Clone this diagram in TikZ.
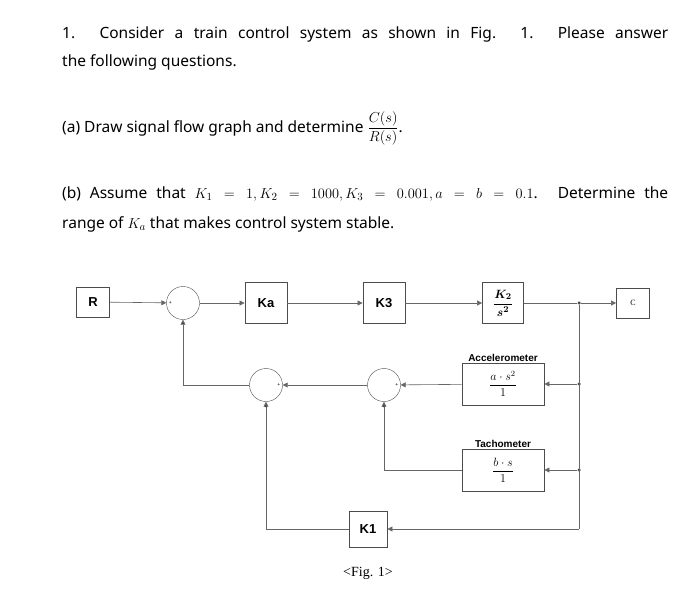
\documentclass[tikz,border=0pt]{standalone}
\usepackage{amsmath,amsbsy}
\usepackage{fontspec}
\setmainfont{Noto Sans}
\newfontfamily\blk{Liberation Sans}
\newfontfamily\ser{Liberation Serif}
\usetikzlibrary{arrows.meta}
\begin{document}
\begin{tikzpicture}[x=1pt,y=-1pt,
  box/.style={draw=black!70,thick,minimum width=#1,inner sep=0pt,font=\blk\bfseries\fontsize{13}{15}\selectfont},
  sum/.style={draw=black!70,circle,minimum size=33pt,inner sep=0pt},
  ln/.style={draw=black!60,line width=0.6pt},
  ar/.style={ln,-{Triangle[length=5pt,width=5pt]}},
  dot/.style={circle,fill=black!70,inner sep=0pt,minimum size=3.5pt},
  sg/.style={font=\fontsize{5}{5}\selectfont,inner sep=0pt},
  txt/.style={anchor=base west,inner sep=0pt,font=\fontsize{15.5}{18}\selectfont}]
\useasboundingbox (0,0) rectangle (700,608);
\node[txt] at (62,38) {\makebox[606pt][s]{1. Consider a train control system as shown in Fig. 1. Please answer}};
\node[txt] at (62,66) {the following questions.};
\node[txt] at (62,132) {(a) Draw signal flow graph and determine $\dfrac{C(s)}{R(s)}$.};
\node[txt] at (62,198) {\makebox[606pt][s]{(b) Assume that $K_1\!=\!1, K_2\!=\!1000, K_3\!=\!0.001, a\!=\!b\!=\!0.1$. Determine the}};
\node[txt] at (62,228) {range of $K_a$ that makes control system stable.};

\node[box=33pt,minimum height=30pt] (R) at (93,302) {R};
\node[sum] (s1) at (183,303) {};
\node[box=42pt,minimum height=41pt] (Ka) at (266,303) {Ka};
\node[box=42pt,minimum height=41pt] (K3) at (384,303) {K3};
\node[box=41pt,minimum height=41pt] (G) at (503,303) {$\boldsymbol{\dfrac{K_2}{s^2}}$};
\node[box=33pt,minimum height=30pt,font=\ser\fontsize{8}{9}\selectfont] (C) at (633,303) {C};
\node[box=82pt,minimum height=42pt,font=\fontsize{12}{14}\selectfont] (A) at (503,384) {$\dfrac{a\cdot s^2}{1}$};
\node[box=82pt,minimum height=42pt,font=\fontsize{12}{14}\selectfont] (T) at (503,470) {$\dfrac{b\cdot s}{1}$};
\node[font=\blk\bfseries\fontsize{10}{12}\selectfont,anchor=south] at (A.north) [yshift=-3pt] {Accelerometer};
\node[font=\blk\bfseries\fontsize{10}{12}\selectfont,anchor=south] at (T.north) [yshift=-3pt] {Tachometer};
\node[sum] (s2) at (266,385) {};
\node[sum] (s3) at (384,385) {};
\node[box=38pt,minimum height=36pt] (K1) at (368,529) {K1};
\node[dot] (d1) at (579,303) {};
\node[dot] (d2) at (579,384) {};
\node[dot] (d3) at (579,470) {};
\coordinate (d4) at (579,529);
\node[font=\ser\fontsize{14}{16}\selectfont] (fig) at (368,573) {<Fig. 1>};

\draw[ar] (R) -- (s1);
\draw[ar] (s1) -- (Ka);
\draw[ar] (Ka) -- (K3);
\draw[ar] (K3) -- (G);
\draw[ln] (G) -- (d1);
\draw[ar] (d1) -- (C);
\draw[ln] (d1) -- (d4);
\draw[ar] (d2) -- (A);
\draw[ar] (d3) -- (T);
\draw[ar] (d4) -- (K1);
\draw[ar] (A) -- (s3);
\draw[ar] (s3) -- (s2);
\draw[ar] (s2.west) -| (s1.south);
\draw[ar] (T.west) -| (s3.south);
\draw[ar] (K1.west) -| (s2.south);
\node[sg] at ([xshift=4pt]s1.west) {+};
\node[sg] at ([yshift=-5pt]s1.south) {--};
\node[sg] at ([xshift=-4pt]s2.east) {+};
\node[sg] at ([yshift=-5pt]s2.south) {+};
\node[sg] at ([xshift=-4pt]s3.east) {+};
\node[sg] at ([yshift=-5pt]s3.south) {+};
\end{tikzpicture}
\end{document}
